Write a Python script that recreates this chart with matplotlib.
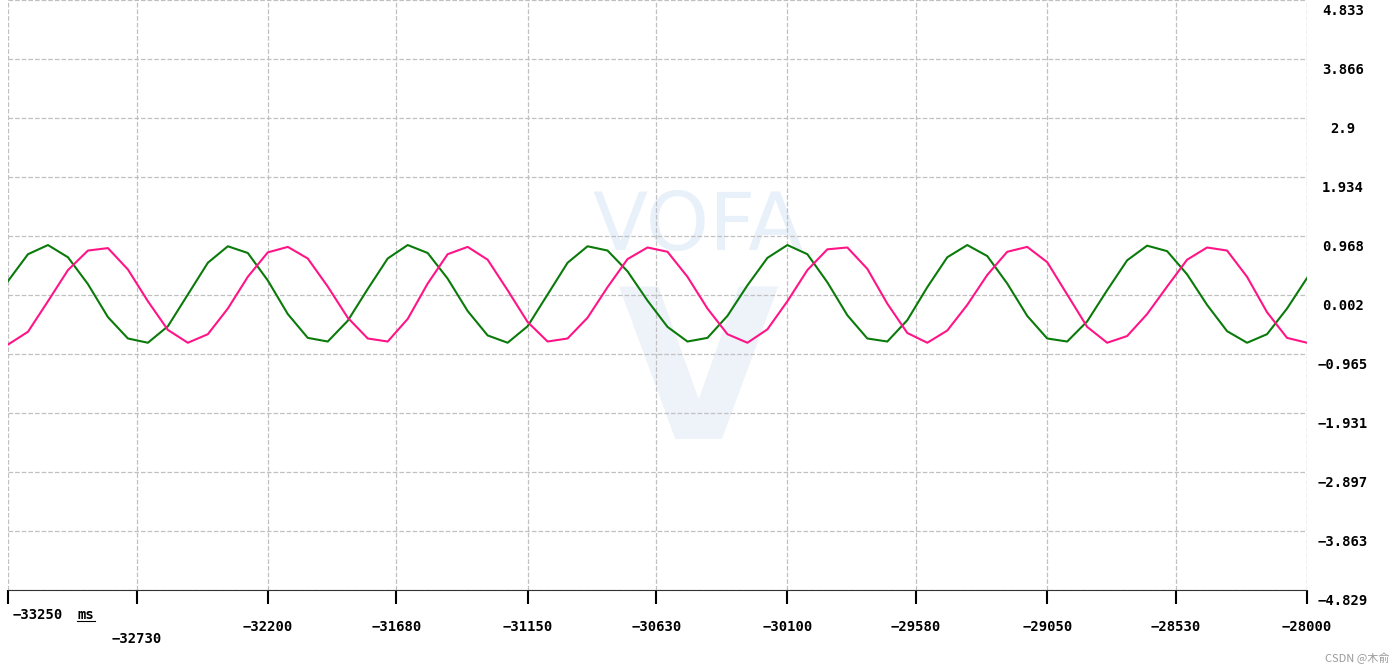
import numpy as np
import matplotlib.pyplot as plt
import matplotlib.transforms as mtrans

# sample grid: 66 samples between -33250 and -28000 ms
t_ms = np.linspace(-33250, -28000, 66)

green = [0.23, 0.67, 0.82, 0.62, 0.18, -0.36, -0.71, -0.78, -0.51, 0.01,
         0.53, 0.80, 0.69, 0.24, -0.31, -0.70, -0.76, -0.42, 0.10, 0.60,
         0.82, 0.69, 0.27, -0.26, -0.66, -0.78, -0.51, 0.01, 0.53, 0.80,
         0.73, 0.39, -0.09, -0.52, -0.76, -0.70, -0.34, 0.16, 0.61, 0.82,
         0.67, 0.21, -0.33, -0.71, -0.76, -0.41, 0.13, 0.62, 0.82, 0.64,
         0.19, -0.34, -0.71, -0.76, -0.43, 0.08, 0.57, 0.81, 0.72, 0.34,
         -0.16, -0.59, -0.78, -0.64, -0.22, 0.28]

pink = [-0.81, -0.60, -0.10, 0.41, 0.73, 0.77, 0.42, -0.10, -0.57, -0.78,
        -0.64, -0.22, 0.30, 0.70, 0.79, 0.60, 0.14, -0.37, -0.71, -0.76,
        -0.39, 0.19, 0.67, 0.79, 0.58, 0.08, -0.44, -0.76, -0.71, -0.37,
        0.13, 0.59, 0.78, 0.71, 0.30, -0.22, -0.64, -0.78, -0.56, -0.10,
        0.41, 0.75, 0.78, 0.43, -0.14, -0.62, -0.78, -0.58, -0.16, 0.33,
        0.71, 0.79, 0.54, 0.01, -0.52, -0.78, -0.67, -0.31, 0.14, 0.58,
        0.78, 0.73, 0.30, -0.28, -0.70, -0.78]

y_ticks = [4.833, 3.866, 2.9, 1.934, 0.968, 0.002, -0.965, -1.931, -2.897, -3.863, -4.829]
x_ticks = [-33250, -32730, -32200, -31680, -31150, -30630, -30100, -29580, -29050, -28530, -28000]

def fmt(v):
    return str(v).replace('-', '\u2212')

fig = plt.figure(figsize=(13.96, 6.67), dpi=100)
ax = fig.add_axes([8/1396, 77/667, 1299/1396, 590/667])

ax.plot(t_ms, green, color='#0a7a0a', lw=1.5)
ax.plot(t_ms, pink, color='#ff1487', lw=1.5)

ax.set_xlim(-33250, -28000)
ax.set_ylim(-4.829, 4.833)
for s in ['top', 'left', 'right']:
    ax.spines[s].set_visible(False)
ax.spines['bottom'].set_color('#333333')

ax.set_yticks(y_ticks)
ax.set_yticklabels([])
ax.tick_params(axis='y', length=0)
off = mtrans.offset_copy(ax.get_yaxis_transform(), fig=fig, x=36, y=-11, units='dots')
for v in y_ticks:
    ax.text(1, v, fmt(v), transform=off, ha='center', va='center',
            family='DejaVu Sans Mono', fontsize=10, fontweight='bold', clip_on=False)

ax.set_xticks(x_ticks)
ax.set_xticklabels([])
ax.tick_params(axis='x', direction='out', length=10, width=1.5, color='black')
xt = ax.get_xaxis_transform()
for i, v in enumerate(x_ticks):
    if i == 0:
        ax.text(v + 20, -0.030, fmt(v), transform=xt, ha='left', va='top',
                family='DejaVu Sans Mono', fontsize=10, fontweight='bold')
    elif i == 1:
        ax.text(v, -0.072, fmt(v), transform=xt, ha='center', va='top',
                family='DejaVu Sans Mono', fontsize=10, fontweight='bold')
    else:
        ax.text(v, -0.051, fmt(v), transform=xt, ha='center', va='top',
                family='DejaVu Sans Mono', fontsize=10, fontweight='bold')
ax.text(-32935, -0.030, 'ms', transform=xt, ha='center', va='top',
        family='DejaVu Sans Mono', fontsize=10, fontweight='bold')
ax.plot([-32970, -32900], [-0.052, -0.052], transform=xt,
        color='black', lw=0.8, clip_on=False)

ax.grid(True, ls='--', color='#c0c0c0', lw=0.9)
ax.axvline(-28000, color='#c0c0c0', ls='--', lw=0.9)

# faint watermark
ax.text(-30460, 1.1, 'VOFA', ha='center', va='center', fontsize=58, color='#e8f0f9', zorder=0)
ax.text(-30460, -1.4, 'V', ha='center', va='center', fontsize=150, color='#eef3fa',
        fontweight='bold', zorder=0)

fig.text(0.995, 0.005, 'CSDN @木俞', ha='right', va='bottom', fontsize=8, color='#999999',
         family=['Noto Sans CJK SC', 'DejaVu Sans'])

fig.savefig('out.png', dpi=100)
